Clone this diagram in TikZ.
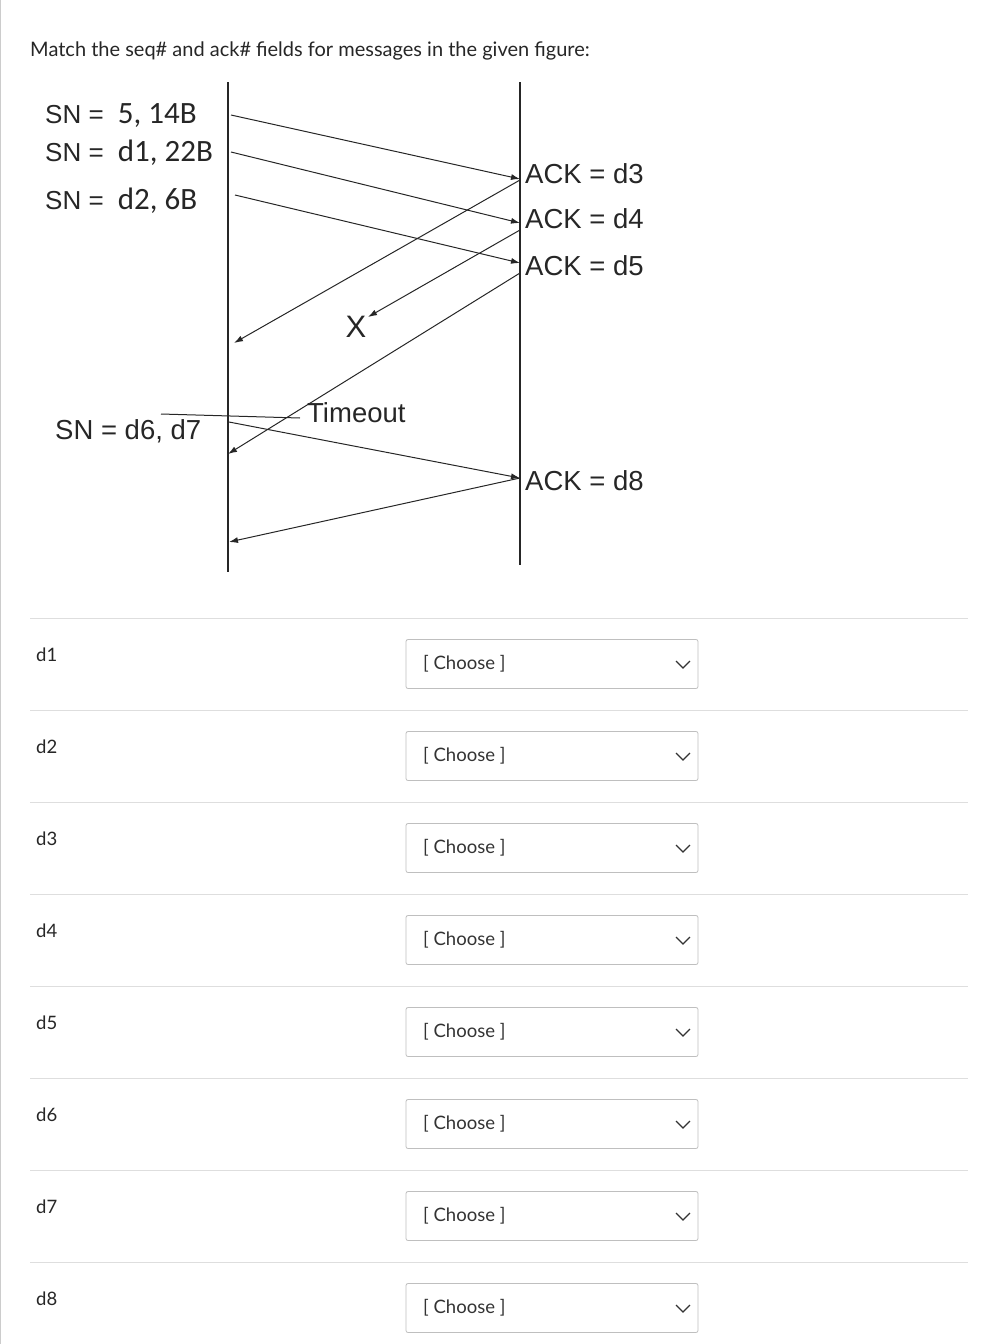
\documentclass[tikz,border=0pt]{standalone}
\usepackage{fontspec}
\setmainfont{Lato}
\newfontfamily\arial{Liberation Sans}
\newfontfamily\calib{Carlito}
\usetikzlibrary{arrows.meta}
\tikzset{
 msg/.style={line width=1pt,black!85,-{Latex[length=9pt,width=6pt]}},
 tl/.style={line width=1.3pt,black!85},
 lab/.style={anchor=west,inner sep=0pt,font=\arial\fontsize{27.5}{27.5}\selectfont,text=black!85},
 rowlab/.style={anchor=west,inner sep=0pt,font=\fontsize{18.5}{18.5}\selectfont,text=black!85},
 dd/.style={draw=black!25,rounded corners=2pt,line width=0.8pt,minimum width=292pt,minimum height=49pt,inner sep=0pt},
 sep/.style={draw=black!13,line width=0.8pt},
}
\begin{document}
\begin{tikzpicture}[x=1pt,y=-1pt]
\useasboundingbox (0,0) rectangle (988,1344);
\draw[black!20,line width=1pt] (0.5,0) -- (0.5,1344);
\node[anchor=west,inner sep=0pt,font=\fontsize{20}{20}\selectfont,text=black!85] (title) at (30,51) {Match the seq\# and ack\# fields for messages in the given figure:};
% timelines
\coordinate (Lt) at (228,82); \coordinate (Lb) at (228,572);
\coordinate (Rt) at (520,82); \coordinate (Rb) at (520,565);
\draw[tl] (Lt) -- (Lb);
\draw[tl] (Rt) -- (Rb);
% labels
\node[lab,font=\arial\fontsize{26}{26}\selectfont] (s1) at (45,116) {SN = \calib\fontsize{31}{31}\selectfont\ 5, 14B};
\node[lab,font=\arial\fontsize{26}{26}\selectfont] (s2) at (45,153) {SN = \calib\fontsize{31}{31}\selectfont\ d1, 22B};
\node[lab,font=\arial\fontsize{26}{26}\selectfont] (s3) at (45,201) {SN = \calib\fontsize{31}{31}\selectfont\ d2, 6B};
\node[lab] (s4) at (55,431) {SN = d6, d7};
\node[lab] (a3) at (525,174) {ACK = d3};
\node[lab] (a4) at (525,219) {ACK = d4};
\node[lab] (a5) at (525,266) {ACK = d5};
\node[lab] (a8) at (525,481) {ACK = d8};
\node[lab] (tmo) at (307,413) {Timeout};
\node[inner sep=0pt,font=\arial\fontsize{31}{31}\selectfont,text=black!85] (xx) at (356,327) {X};
% coordinates
\coordinate (p1) at (231,115); \coordinate (q1) at (520,179);
\coordinate (p2) at (231,152); \coordinate (q2) at (520,223);
\coordinate (p3) at (235,195); \coordinate (q3) at (520,263);
\coordinate (r3) at (520,180); \coordinate (m3) at (234,343);
\coordinate (r4) at (520,230); \coordinate (m4) at (368,317);
\coordinate (r5) at (520,273); \coordinate (m5) at (228,454);
\coordinate (t1) at (161,414); \coordinate (t2) at (300,418);
\coordinate (p6) at (229,422); \coordinate (q6) at (520,478);
\coordinate (r8) at (520,478); \coordinate (m8) at (229,542);
\draw[msg] (p1) -- (q1);
\draw[msg] (p2) -- (q2);
\draw[msg] (p3) -- (q3);
\draw[msg] (r3) -- (m3);
\draw[msg] (r4) -- (m4);
\draw[msg] (r5) -- (m5);
\draw[line width=1pt,black!85] (t1) -- (t2);
\draw[msg] (p6) -- (q6);
\draw[msg] (r8) -- (m8);
% rows
\foreach \i/\t in {0/d1,1/d2,2/d3,3/d4,4/d5,5/d6,6/d7,7/d8}{
  \pgfmathsetmacro{\yy}{618+92*\i}
  \draw[sep] (30,\yy) -- (968,\yy);
  \node[rowlab] (r\t) at (36,\yy+37) {\t};
  \node[dd] (b\t) at (552,\yy+46) {};
  \node[anchor=west,inner sep=0pt,font=\fontsize{18.5}{18.5}\selectfont,text=black!80] (c\t) at (423,\yy+46) {[ Choose ]};
  \draw[line width=1.2pt,black!80] (676,\yy+43) -- (683,\yy+50) -- (690,\yy+43);
}
\end{tikzpicture}
\end{document}
